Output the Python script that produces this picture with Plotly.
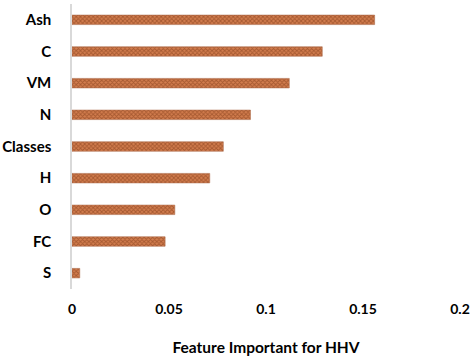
import plotly.graph_objects as go

features = ["Ash", "C", "VM", "N", "Classes", "H", "O", "FC", "S"]
importance = [0.156, 0.129, 0.112, 0.092, 0.078, 0.071, 0.053, 0.048, 0.004]
x_ticks = [0, 0.05, 0.1, 0.15, 0.2]
x_tick_labels = ["0", "0.05", "0.1", "0.15", "0.2"]

fig = go.Figure(
    go.Bar(
        x=importance,
        y=features,
        orientation="h",
        marker=dict(
            color="#d27d4e",
            line=dict(color="#b07050", width=0.6),
            pattern=dict(shape="x", fgcolor="#7a3512", size=3, solidity=0.5),
        ),
    )
)

fig.update_layout(
    width=474,
    height=357,
    margin=dict(l=72, r=14, t=4, b=68),
    paper_bgcolor="white",
    plot_bgcolor="white",
    bargap=0.7,
    showlegend=False,
    font=dict(family="Lato", color="black"),
)

fig.update_yaxes(
    automargin=False,
    categoryorder="array",
    categoryarray=features[::-1],
    showline=True,
    linecolor="#d9d9d9",
    linewidth=1.5,
    showgrid=False,
    ticks="",
    ticklabelstandoff=16,
    tickfont=dict(family="Lato", size=15, color="black", weight="bold"),
)

fig.update_xaxes(
    automargin=False,
    range=[0, 0.2],
    tickvals=x_ticks,
    ticktext=x_tick_labels,
    showgrid=False,
    zeroline=False,
    showline=False,
    ticks="",
    ticklabelstandoff=10,
    tickfont=dict(family="Lato", size=14, color="black", weight="bold"),
    title=dict(
        text="Feature Important for HHV",
        font=dict(family="Lato", size=15.5, color="black", weight="bold"),
        standoff=26,
    ),
)

fig.write_html(
    "out.html",
    config={"displayModeBar": False},
    post_script="document.body.style.margin='0';",
)
